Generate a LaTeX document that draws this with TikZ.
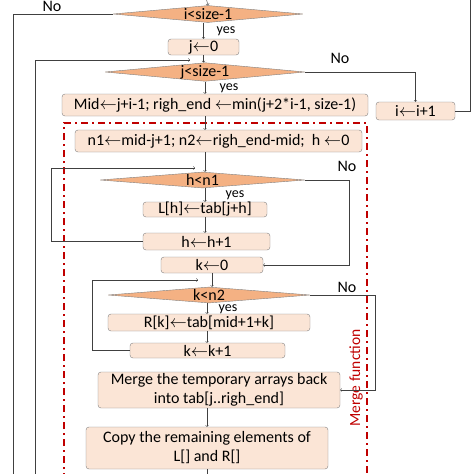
\documentclass[tikz,border=0pt]{standalone}
\usepackage{fontspec}
\setmainfont{Carlito}
\usetikzlibrary{shapes.geometric}
\definecolor{boxfill}{HTML}{FBE5D6}
\definecolor{decfill}{HTML}{F4B183}
\definecolor{linegray}{HTML}{404040}
\definecolor{mergered}{HTML}{C00000}
\newcommand{\assign}{$\leftarrow$}
\begin{document}
\begin{tikzpicture}[x=1pt,y=-1pt,
  font=\fontsize{16}{19}\selectfont,
  box/.style={draw=gray, fill=boxfill, rounded corners=3pt, inner sep=0pt},
  decision/.style={diamond, draw=gray, fill=decfill, inner sep=0pt, aspect=10},
  arr/.style={->, draw=linegray},
  flow/.style={draw=linegray},
  tag/.style={inner sep=0pt, font=\fontsize{14}{16}\selectfont}]
\useasboundingbox (0,0) rectangle (474,474);

% merge function frame
\draw[mergered, line width=1.6pt, dash pattern=on 7pt off 4pt on 2pt off 4pt]
  (64,480) -- (64,123) -- (367,123) -- (367,480);
\node[mergered, rotate=90, font=\fontsize{15.5}{18}\selectfont] (mlabel) at (356,378) {Merge function};

% outer loop
\node[decision, minimum width=190, minimum height=17] (icond) at (208,14) {i<size-1};
\node[box, minimum width=71, minimum height=16] (jzero) at (203.5,47) {j\assign 0};
\node[decision, minimum width=200, minimum height=18] (jcond) at (205,72) {j<size-1};
\node[box, minimum width=306, minimum height=22] (mid) at (215,105)
  {Mid\assign j+i-1; righ\_end \assign min(j+2*i-1, size-1)};
\node[box, minimum width=79, minimum height=18] (inext) at (415.5,111) {i\assign i+1};

% merge
\node[box, minimum width=287, minimum height=22] (sizes) at (218.5,141)
  {n1\assign mid-j+1; n2\assign righ\_end-mid;\ \ h \assign 0};
\node[decision, minimum width=205, minimum height=16] (hcond) at (202.5,180) {h<n1};
\node[box, minimum width=124, minimum height=15] (lcopy) at (205,209.5) {L[h]\assign tab[j+h]};
\node[box, minimum width=127, minimum height=17] (hnext) at (206.5,241.5) {h\assign h+1};
\node[box, minimum width=102, minimum height=16] (kzero) at (212,265) {k\assign 0};
\node[decision, minimum width=202, minimum height=16] (kcond) at (209,295) {k<n2};
\node[box, minimum width=202, minimum height=17] (rcopy) at (209,322.5) {R[k]\assign tab[mid+1+k]};
\node[box, minimum width=155, minimum height=15] (knext) at (207.5,350.5) {k\assign k+1};
\node[box, minimum width=242, minimum height=36, align=center] (mergeback) at (219,390)
  {Merge the temporary arrays back\\into tab[j..righ\_end]};
\node[box, minimum width=242, minimum height=42, align=center] (rest) at (207,448)
  {Copy the remaining elements of\\L[] and R[]};

\coordinate (top) at (205,-6);
\coordinate (kx) at (207,0);
\coordinate (iloop) at (35,474);
\coordinate (jback) at (190,60);
\coordinate (hback) at (195,168);
\coordinate (kback) at (198,280);
\coordinate (bottom) at (207,474);

% connectors
\draw[arr] (top) -- (icond.north);
\draw[flow] (icond.west) -- (13,14) -- (13,474);
\draw[arr] (icond.south -| jzero) -- (jzero.north);
\draw[arr] (jzero.south) -- (jcond.north -| jzero);
\draw[arr] (iloop) -- (35,60) -- (jback);
\draw[arr] (jcond.east) -- (inext.north |- jcond.east) -- (inext.north);
\draw[flow] (inext.east) -- (470,111) -- (470,0);
\draw[arr] (jcond.south) -- (mid.north -| jcond.south);
\draw[arr] (mid.south -| jcond.south) -- (sizes.north -| jcond.south);
\draw[arr] (sizes.south -| jcond.south) -- (hcond.north -| jcond.south);
\draw[arr] (hcond.south -| lcopy) -- (lcopy.north);
\draw[arr] (lcopy.south) -- (hnext.north -| lcopy);
\draw[arr] (hnext.west) -- (51,241.5) -- (51,168) -- (hback);
\draw[arr] (hcond.east) -- (349,180) -- (349,265) -- (kzero.east);
\draw[arr] (kzero.south) -- (kcond.north -| kzero);
\draw[arr] (kcond.south -| kx) -- (rcopy.north -| kx);
\draw[arr] (rcopy.south -| kx) -- (knext.north -| kx);
\draw[arr] (knext.west) -- (92,350.5) -- (92,280) -- (kback);
\draw[arr] (kcond.east) -- (375,295) -- (375,390) -- (mergeback.east);
\draw[arr] (mergeback.south -| rest) -- (rest.north);
\draw[flow] (rest.south) -- (bottom);

% labels
\draw (52,6) node[tag, font=\fontsize{16}{19}\selectfont] {No}
      (340,58) node[tag, font=\fontsize{16}{19}\selectfont] {No}
      (347,166) node[tag, font=\fontsize{16}{19}\selectfont] {No}
      (347,287) node[tag, font=\fontsize{16}{19}\selectfont] {No}
      (226,31) node[tag] {yes}
      (229,88.5) node[tag] {yes}
      (235,195.5) node[tag] {yes}
      (228,309.5) node[tag] {yes};
\end{tikzpicture}
\end{document}
